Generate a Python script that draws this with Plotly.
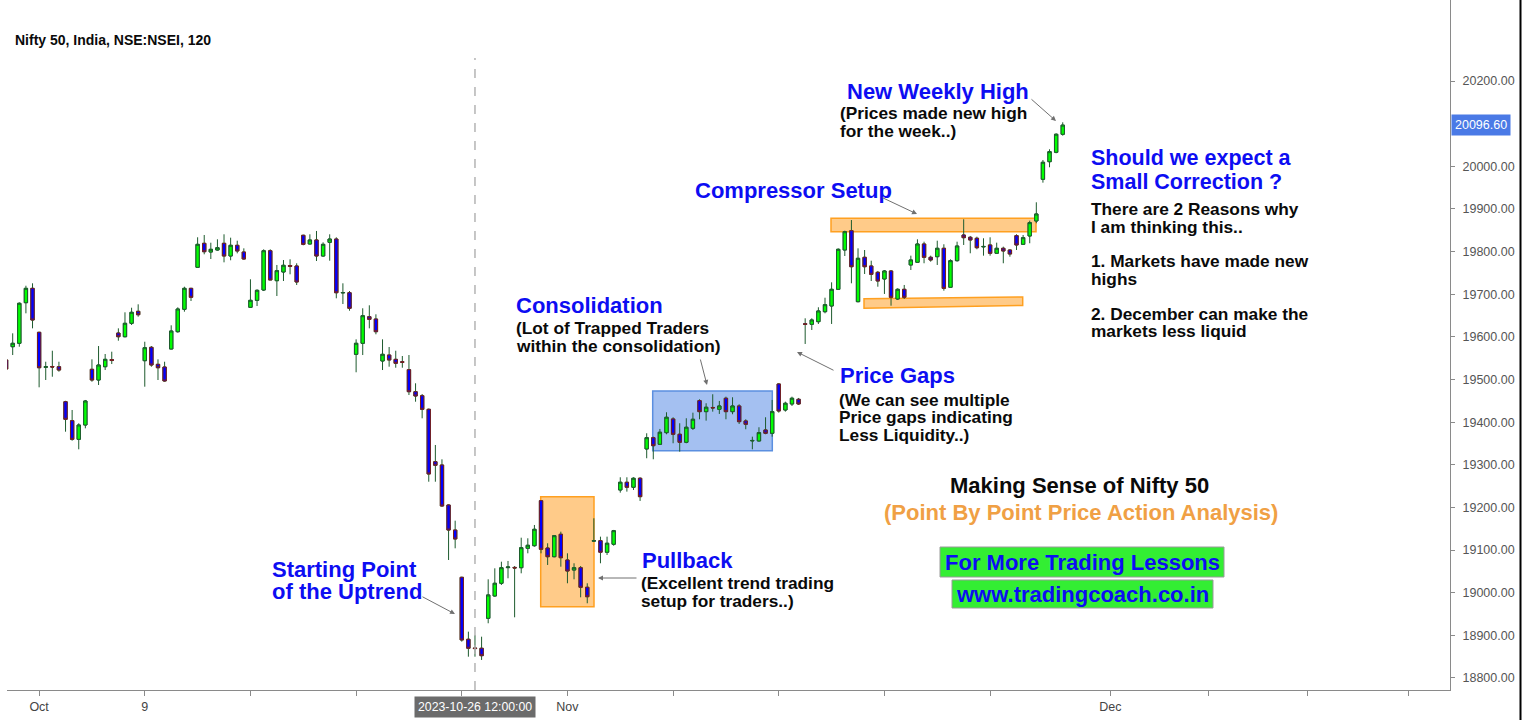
import plotly.graph_objects as go

# ---------------- data (Nifty 50, 120-minute bars) ----------------
opens = [19545.8, 19576.9, 19584.9, 19680.1, 19713.8, 19610.7, 19528.6, 19530.5, 19530.0, 19447.9,
         19403.4, 19359.7, 19393.3, 19523.9, 19498.8, 19530.0, 19546.9, 19609.0, 19600.3, 19631.8,
         19659.9, 19544.1, 19575.5, 19535.6, 19529.3, 19571.5, 19612.1, 19664.6, 19713.8, 19763.1,
         19819.4, 19799.0, 19803.7, 19819.4, 19789.6, 19814.7, 19799.0, 19669.3, 19685.7, 19709.9,
         19802.0, 19731.7, 19752.1, 19767.3, 19766.2, 19838.2, 19817.8, 19827.2, 19789.6, 19821.7,
         19829.4, 19703.0, 19703.5, 19559.1, 19584.9, 19647.3, 19641.8, 19543.4, 19557.4, 19547.3,
         19541.7, 19523.0, 19471.4, 19462.0, 19430.1, 19307.2, 19299.5, 19205.7, 19147.0, 19036.1,
         18890.8, 18870.4, 18869.7, 18940.0, 18992.3, 19022.1, 19058.8, 19059.3, 19058.6, 19104.1,
         19110.2, 19215.8, 19104.8, 19084.4, 19137.0, 19076.7, 19053.2, 19058.6, 19012.7, 19121.0,
         19122.0, 19094.9, 19113.6, 19240.9, 19259.0, 19247.3, 19268.4, 19337.1, 19363.6, 19348.1,
         19375.3, 19407.4, 19371.6, 19352.8, 19385.6, 19450.4, 19424.6, 19434.4, 19430.2, 19456.0,
         19424.6, 19437.9, 19402.8, 19356.0, 19355.9, 19381.6, 19373.9, 19489.5, 19428.5, 19442.6,
         19453.6, 19630.7, 19629.5, 19635.6, 19659.0, 19672.4, 19711.5, 19803.7, 19849.0, 19682.5,
         19786.6, 19766.2, 19751.4, 19735.7, 19754.5, 19688.8, 19711.5, 19768.6, 19774.9, 19817.8,
         19786.6, 19788.0, 19807.7, 19716.3, 19778.7, 19838.9, 19833.5, 19831.2, 19811.0, 19815.5,
         19796.0, 19807.7, 19803.7, 19837.3, 19817.1, 19836.6, 19871.8, 19969.5, 20010.8, 20032.9,
         20075.1]
highs = [19548.0, 19608.3, 19681.0, 19719.9, 19725.6, 19612.0, 19541.7, 19567.5, 19541.7, 19450.0,
         19428.5, 19397.3, 19452.0, 19547.3, 19578.5, 19559.8, 19565.2, 19620.0, 19657.6, 19668.3,
         19676.3, 19588.6, 19578.5, 19547.3, 19541.7, 19627.1, 19669.3, 19717.6, 19715.0, 19833.5,
         19838.9, 19820.8, 19828.8, 19840.5, 19832.6, 19825.5, 19807.6, 19735.0, 19711.5, 19805.3,
         19805.3, 19768.6, 19780.2, 19781.9, 19772.5, 19839.6, 19840.5, 19848.3, 19821.7, 19840.5,
         19833.5, 19725.6, 19707.5, 19594.2, 19667.0, 19674.0, 19652.9, 19594.2, 19576.2, 19567.5,
         19555.1, 19557.4, 19491.1, 19466.0, 19432.0, 19346.4, 19312.8, 19207.0, 19168.9, 19037.5,
         18908.6, 18900.9, 18896.8, 19031.4, 19057.2, 19072.7, 19074.4, 19062.6, 19129.0, 19127.6,
         19158.8, 19217.4, 19115.9, 19135.3, 19143.1, 19092.4, 19069.0, 19062.6, 19022.1, 19174.5,
         19131.4, 19131.4, 19147.2, 19270.7, 19270.7, 19270.7, 19270.7, 19373.9, 19365.9, 19384.0,
         19423.2, 19411.4, 19397.4, 19409.1, 19422.2, 19453.6, 19444.3, 19465.4, 19449.7, 19459.7,
         19458.3, 19441.9, 19406.7, 19365.9, 19388.0, 19411.4, 19452.0, 19491.1, 19448.0, 19459.7,
         19456.7, 19643.5, 19643.5, 19669.4, 19691.8, 19727.9, 19807.6, 19849.0, 19874.0, 19807.6,
         19803.7, 19778.6, 19754.5, 19756.8, 19756.8, 19713.8, 19721.7, 19790.4, 19828.8, 19823.2,
         19790.4, 19825.5, 19817.1, 19781.9, 19823.2, 19875.7, 19836.6, 19834.9, 19831.2, 19833.5,
         19820.9, 19811.5, 19805.3, 19840.6, 19838.9, 19872.5, 19915.6, 20014.8, 20039.9, 20077.4,
         20103.2]
lows = [19522.2, 19557.4, 19576.9, 19655.2, 19620.0, 19481.7, 19498.8, 19506.5, 19518.3, 19377.6,
        19356.5, 19336.3, 19385.5, 19494.8, 19487.1, 19522.2, 19536.3, 19591.0, 19598.9, 19627.8,
        19647.2, 19483.1, 19530.0, 19498.8, 19494.8, 19570.8, 19609.7, 19659.0, 19684.1, 19762.0,
        19793.6, 19782.6, 19802.0, 19774.8, 19779.6, 19795.9, 19780.9, 19668.0, 19672.3, 19707.5,
        19733.0, 19695.8, 19731.0, 19746.7, 19721.6, 19814.7, 19817.0, 19777.9, 19787.9, 19778.6,
        19690.4, 19677.0, 19661.3, 19516.9, 19557.4, 19620.0, 19606.0, 19522.2, 19530.0, 19527.6,
        19527.6, 19463.6, 19447.9, 19409.0, 19260.3, 19260.3, 19201.7, 19076.7, 19104.1, 18885.2,
        18849.9, 18849.9, 18842.3, 18928.3, 18990.6, 19018.1, 19033.8, 18942.3, 19045.5, 19092.4,
        19107.9, 19092.4, 19065.0, 19083.0, 19061.0, 19022.1, 19031.4, 18989.2, 18975.2, 19120.0,
        19069.0, 19088.5, 19110.2, 19234.6, 19237.0, 19240.9, 19215.2, 19315.3, 19312.9, 19346.5,
        19371.6, 19350.5, 19330.8, 19350.5, 19381.6, 19406.7, 19403.5, 19424.6, 19419.2, 19406.7,
        19418.5, 19395.7, 19383.3, 19336.3, 19354.2, 19371.6, 19365.9, 19422.2, 19424.6, 19437.9,
        19440.3, 19583.3, 19616.1, 19630.2, 19655.2, 19630.2, 19709.9, 19789.6, 19725.6, 19681.0,
        19747.4, 19731.0, 19717.6, 19700.6, 19673.1, 19686.5, 19688.8, 19756.8, 19774.0, 19772.6,
        19776.3, 19768.6, 19708.3, 19715.3, 19776.3, 19815.5, 19796.0, 19805.4, 19790.4, 19790.4,
        19794.4, 19772.6, 19788.0, 19803.7, 19815.5, 19819.5, 19866.4, 19961.6, 19997.7, 20030.5,
        20071.8]
closes = [19524.6, 19584.9, 19678.7, 19713.8, 19639.5, 19527.6, 19530.0, 19529.3, 19522.2, 19406.6,
          19359.7, 19393.3, 19449.6, 19498.8, 19534.0, 19547.3, 19544.5, 19600.3, 19631.8, 19657.6,
          19651.9, 19574.5, 19534.0, 19527.6, 19496.5, 19613.7, 19665.3, 19713.8, 19692.8, 19817.0,
          19799.7, 19805.3, 19809.1, 19789.6, 19814.7, 19801.4, 19782.6, 19685.7, 19709.1, 19802.0,
          19733.4, 19755.2, 19767.8, 19765.5, 19728.7, 19817.0, 19827.2, 19789.6, 19817.0, 19829.4,
          19703.5, 19704.0, 19667.0, 19584.9, 19649.6, 19641.1, 19612.1, 19559.1, 19545.8, 19538.0,
          19540.3, 19471.4, 19461.3, 19430.1, 19278.4, 19298.8, 19203.3, 19147.0, 19126.0, 18889.2,
          18869.7, 18869.0, 18852.3, 18994.7, 19022.1, 19058.6, 19060.2, 19058.1, 19105.5, 19111.2,
          19148.7, 19101.8, 19084.4, 19133.7, 19082.1, 19050.9, 19058.6, 19012.7, 18990.6, 19122.0,
          19094.9, 19116.0, 19145.5, 19259.0, 19247.3, 19268.4, 19225.2, 19363.6, 19344.8, 19376.3,
          19411.4, 19371.6, 19352.8, 19388.0, 19406.7, 19424.6, 19434.9, 19433.5, 19437.9, 19424.6,
          19437.9, 19401.1, 19395.0, 19357.0, 19375.3, 19373.9, 19424.6, 19426.2, 19444.3, 19456.0,
          19442.6, 19629.5, 19639.6, 19660.7, 19675.4, 19711.5, 19805.3, 19846.6, 19764.5, 19784.2,
          19764.5, 19746.7, 19731.0, 19754.5, 19692.8, 19711.5, 19692.8, 19780.3, 19817.8, 19786.6,
          19780.3, 19807.7, 19713.8, 19778.7, 19813.1, 19832.6, 19827.2, 19809.1, 19812.0, 19796.0,
          19807.7, 19801.4, 19794.4, 19815.5, 19832.6, 19867.8, 19888.2, 20009.4, 20034.3, 20075.1,
          20096.6]
bars = list(range(len(closes)))

# 20100 is hidden behind the last-price label, as in the reference
price_ticks = [18800, 18900, 19000, 19100, 19200, 19300, 19400, 19500, 19600,
               19700, 19800, 19900, 20000, 20200]
date_tick_bars = [5, 21, 37, 53, 69, 85, 101, 117, 133, 149, 167.2, 182.1, 197.1, 212.3]
date_tick_text = ["Oct", "9", "", "", "", "Nov", "", "", "", "", "Dec", "", "", ""]
cursor_bar = 71
cursor_label = "2023-10-26 12:00:00"
last_price = closes[-1]

# ---------------- geometry ----------------
W, H = 1527, 720
ML, MR, MT, MB = 7, 77, 0, 30
PW, PH = W - ML - MR, H - MT - MB
K = 6.604          # px per bar
X0 = 6.1           # px of first bar
PTS_PER_PX = 2.3452
YTOP = 20390.0

xr = [(ML - X0) / K, (ML + PW - X0) / K]
yr = [YTOP - PH * PTS_PER_PX, YTOP]


def px(x):
    return (x - ML) / PW


def py(y):
    return (MT + PH - y) / PH


def bx(x):  # pixel -> bar coordinate
    return (x - X0) / K


def pr(y):  # pixel -> price
    return YTOP - (y - MT) * PTS_PER_PX


FONT = "Liberation Sans, Arial, sans-serif"
BLUE = "#0d0df2"
BLACK = "#0a0a0a"
UP_FILL, UP_LINE = "#00ff00", "#1e5b2e"
DN_FILL, DN_LINE = "#0000ff", "#7a1f1f"
HEAD = 22
SUB = 17.3

fig = go.Figure()
# wicks (full range) in dark green
fig.add_trace(go.Candlestick(
    x=bars, open=opens, high=highs, low=lows, close=closes,
    increasing=dict(line=dict(color=UP_LINE, width=1), fillcolor=UP_FILL),
    decreasing=dict(line=dict(color=UP_LINE, width=1), fillcolor=DN_FILL),
    hoverinfo="skip", showlegend=False))
# bodies with their own outlines
body_hi = [max(o, c) for o, c in zip(opens, closes)]
body_lo = [min(o, c) for o, c in zip(opens, closes)]
fig.add_trace(go.Candlestick(
    x=bars, open=opens, high=body_hi, low=body_lo, close=closes,
    increasing=dict(line=dict(color=UP_LINE, width=1), fillcolor=UP_FILL),
    decreasing=dict(line=dict(color=DN_LINE, width=1), fillcolor=DN_FILL),
    hoverinfo="skip", showlegend=False))

shapes = []
# consolidation box
shapes.append(dict(type="rect", xref="x", yref="y", x0=bx(652.7), x1=bx(772.3),
                   y0=pr(391), y1=pr(450.7), fillcolor="rgba(90,140,230,0.55)",
                   line=dict(color="#5b8fe0", width=1.5), layer="below"))
# pullback box
shapes.append(dict(type="rect", xref="x", yref="y", x0=bx(540.7), x1=bx(594),
                   y0=pr(496.7), y1=pr(606.7), fillcolor="rgba(255,160,40,0.55)",
                   line=dict(color="#ffa020", width=1.5), layer="below"))
# compressor boxes
shapes.append(dict(type="rect", xref="x", yref="y", x0=bx(831), x1=bx(1036),
                   y0=pr(218.3), y1=pr(231.7), fillcolor="rgba(255,160,40,0.55)",
                   line=dict(color="#ffa020", width=1.5), layer="below"))
p = "M {},{} L {},{} L {},{} L {},{} Z".format(
    bx(864), pr(298.7), bx(1022.7), pr(297.0), bx(1022.7), pr(305.5), bx(864), pr(308.3))
shapes.append(dict(type="path", xref="x", yref="y", path=p, fillcolor="rgba(255,160,40,0.55)",
                   line=dict(color="#ffa020", width=1.5), layer="below"))
# cursor dashed line
shapes.append(dict(type="line", xref="x", yref="paper", x0=cursor_bar, x1=cursor_bar,
                   y0=0, y1=py(58), line=dict(color="#b4b4b4", width=1.5, dash="dash")))
# green promo boxes
shapes.append(dict(type="rect", xref="paper", yref="paper", x0=px(940), x1=px(1224),
                   y0=py(547), y1=py(577), fillcolor="#33ee33", line=dict(color="#9a9a9a", width=1)))
shapes.append(dict(type="rect", xref="paper", yref="paper", x0=px(952), x1=px(1213),
                   y0=py(580), y1=py(608), fillcolor="#33ee33", line=dict(color="#9a9a9a", width=1)))
# outer right border line
shapes.append(dict(type="line", xref="paper", yref="paper", x0=px(1520.5), x1=px(1520.5),
                   y0=py(720), y1=py(0), line=dict(color="#000000", width=2)))

ann = []


def txt(s, x, y, size, color, anchor="left", bold=True):
    ann.append(dict(text=("<b>%s</b>" % s) if bold else s, xref="paper", yref="paper",
                    x=px(x), y=py(y), xanchor=anchor, yanchor="middle", showarrow=False,
                    font=dict(family=FONT, size=size, color=color)))


def arrow(x0, y0, x1, y1):
    ann.append(dict(text="", xref="paper", yref="paper", x=px(x1), y=py(y1),
                    ax=x0 - x1, ay=y0 - y1, showarrow=True, arrowhead=2, arrowsize=1,
                    arrowwidth=1, arrowcolor="#707070"))


txt("Nifty 50, India, NSE:NSEI, 120", 13, 40, 14, BLACK)

txt("New Weekly High", 845, 92, HEAD, BLUE)
txt("(Prices made new high", 838, 113, SUB, BLACK)
txt("for the week..)", 838, 131, SUB, BLACK)
arrow(1030, 98, 1056, 121)

txt("Should we expect a", 1089, 158, 21.5, BLUE)
txt("Small Correction ?", 1089, 182, 21.5, BLUE)
txt("There are 2 Reasons why", 1089, 209, SUB, BLACK)
txt("I am thinking this..", 1089, 227, SUB, BLACK)
txt("1. Markets have made new", 1089, 261, SUB, BLACK)
txt("highs", 1089, 279, SUB, BLACK)
txt("2. December can make the", 1089, 314, SUB, BLACK)
txt("markets less liquid", 1089, 331, SUB, BLACK)

txt("Compressor Setup", 693, 190, HEAD, BLUE)
arrow(881, 197, 917, 214)

txt("Consolidation", 514, 305, HEAD, BLUE)
txt("(Lot of Trapped Traders", 514, 328, SUB, BLACK)
txt("within the consolidation)", 514, 346, SUB, BLACK)
arrow(700, 358, 707, 385)

txt("Price Gaps", 838, 375, HEAD, BLUE)
txt("(We can see multiple", 837, 400, SUB, BLACK)
txt("Price gaps indicating", 837, 417, SUB, BLACK)
txt("Less Liquidity..)", 837, 435, SUB, BLACK)
arrow(835, 371, 797, 352)

txt("Pullback", 640, 560, HEAD, BLUE)
txt("(Excellent trend trading", 639, 583, SUB, BLACK)
txt("setup for traders..)", 639, 601, SUB, BLACK)
arrow(638, 578, 598, 578)

txt("Starting Point", 270, 569, HEAD, BLUE)
txt("of the Uptrend", 270, 591, HEAD, BLUE)
arrow(421, 596, 455, 614)

txt("Making Sense of Nifty 50", 1079, 486, HEAD, BLACK, anchor="center")
txt("(Point By Point Price Action Analysis)", 1081, 512, HEAD, "#f0a044", anchor="center")
txt("For More Trading Lessons", 1082, 562, HEAD, BLUE, anchor="center")
txt("www.tradingcoach.co.in", 1082, 594, HEAD, BLUE, anchor="center")

# last price label on the price axis
ann.append(dict(text="%.2f" % last_price, xref="paper", yref="y", x=px(1451), y=last_price,
                xanchor="left", yanchor="middle", showarrow=False, bgcolor="#4a7ae6",
                borderpad=3, font=dict(family=FONT, size=12.5, color="#ffffff")))
# cursor date label
ann.append(dict(text=cursor_label, xref="x", yref="paper", x=cursor_bar, y=py(706.5),
                xanchor="center", yanchor="middle", showarrow=False, bgcolor="#6b6b6b",
                borderpad=3, font=dict(family=FONT, size=12.3, color="#ffffff")))

fig.update_layout(
    width=W, height=H, margin=dict(l=ML, r=MR, t=MT, b=MB),
    paper_bgcolor="white", plot_bgcolor="white", showlegend=False,
    boxgap=0.28,
    shapes=shapes, annotations=ann,
    xaxis=dict(range=xr, rangeslider=dict(visible=False), showgrid=False, zeroline=False,
               showline=True, linecolor="#8a8a8a", linewidth=1, ticks="outside", ticklen=5,
               tickcolor="#8a8a8a", tickvals=date_tick_bars, ticktext=date_tick_text,
               tickfont=dict(family=FONT, size=12.5, color="#444444")),
    yaxis=dict(range=yr, side="right", showgrid=False, zeroline=False, showline=True,
               linecolor="#8a8a8a", linewidth=1, ticks="outside", ticklen=4,
               tickcolor="#8a8a8a", tickvals=price_ticks, tickformat=".2f",
               ticklabelstandoff=5,
               tickfont=dict(family=FONT, size=12.5, color="#555555")),
)

fig.write_html("out.html")
